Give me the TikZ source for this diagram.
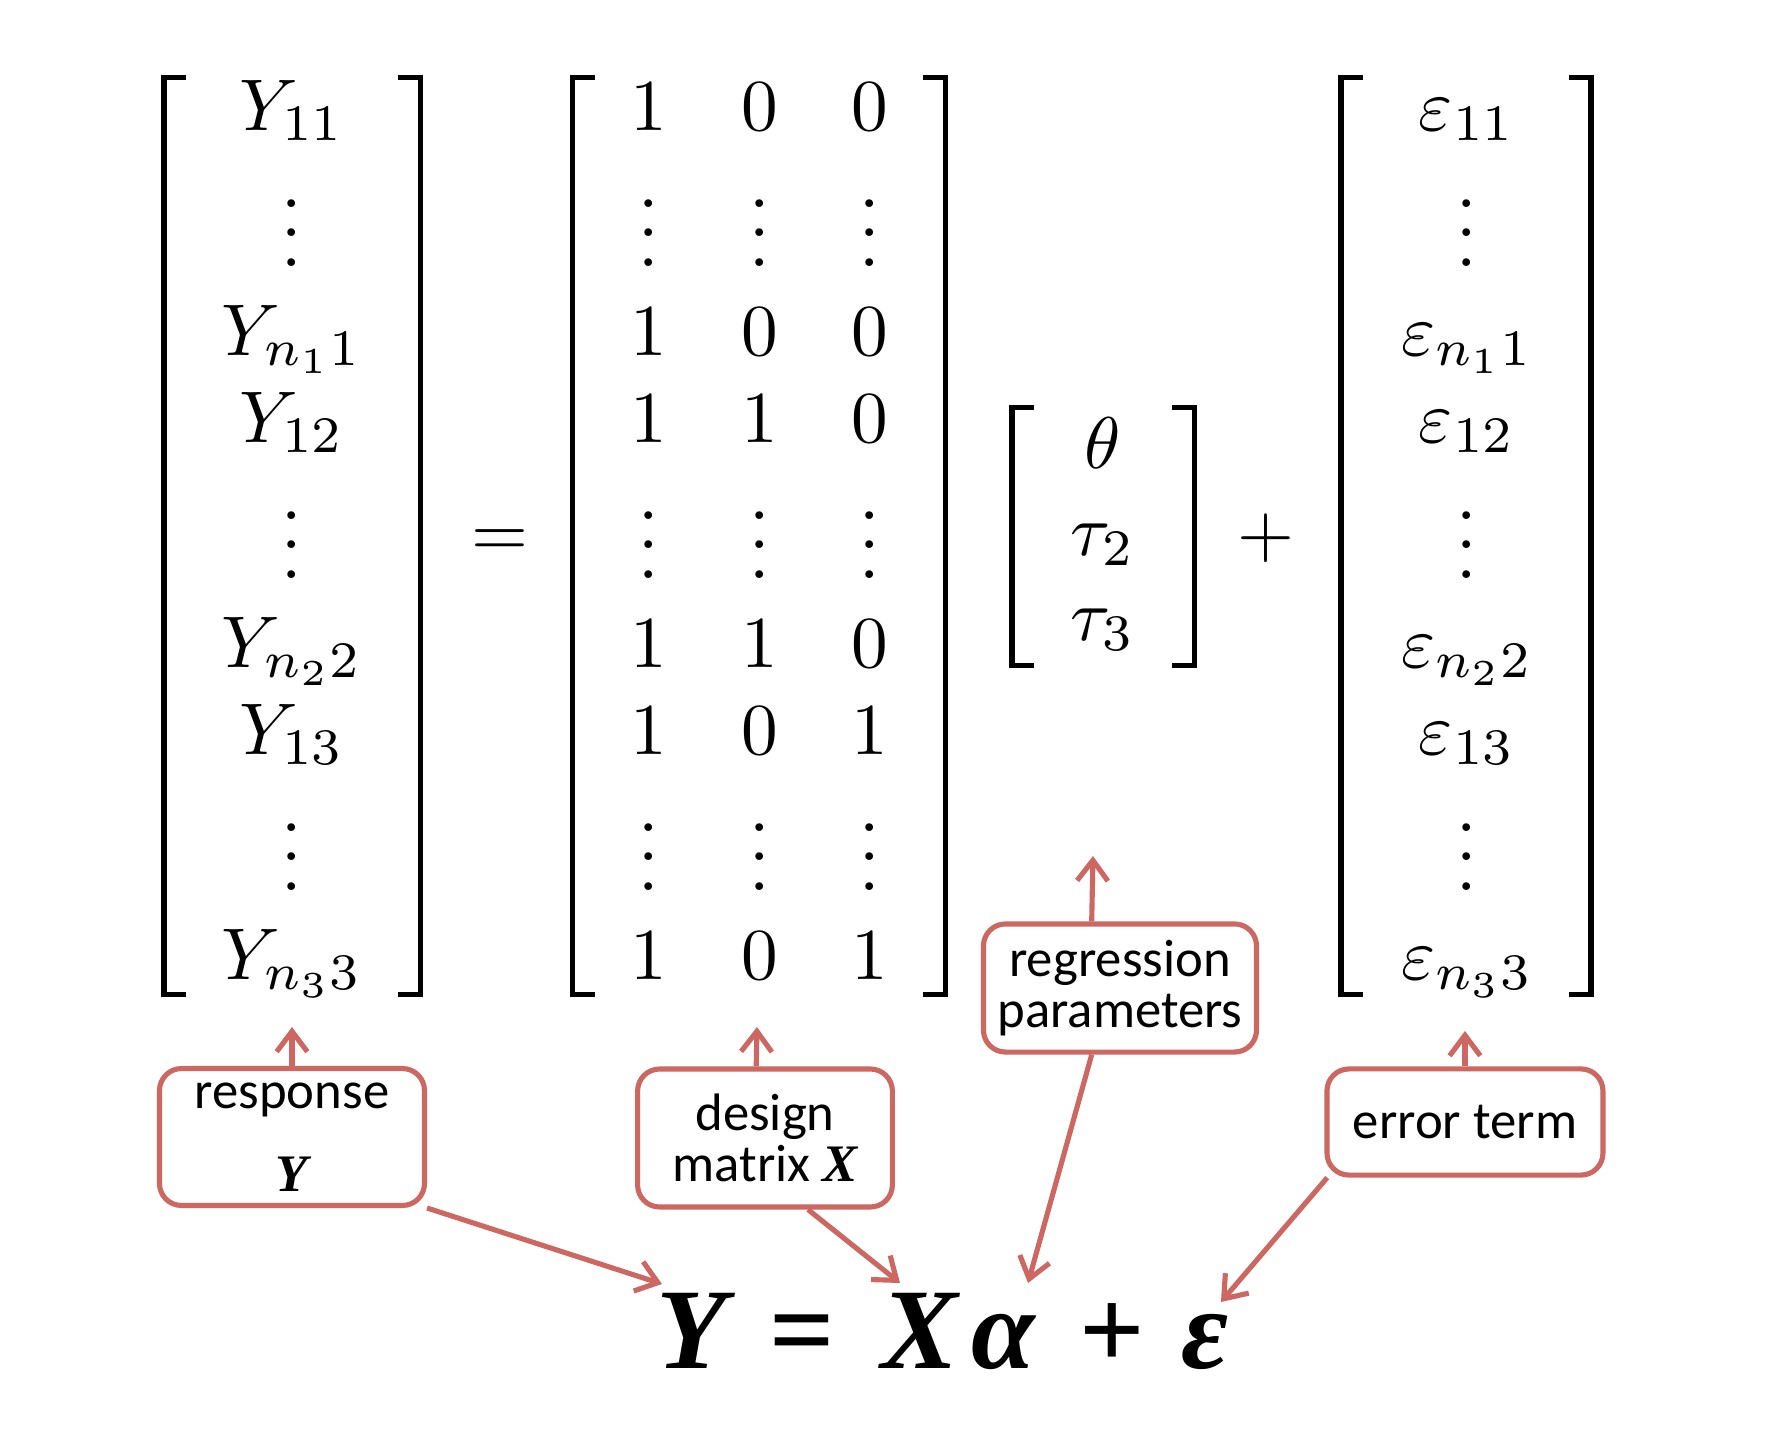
\documentclass[tikz,border=0pt]{standalone}
\usepackage{amsmath}
\usepackage{amssymb}
\usepackage{fontspec}
\usepackage{tikz}
\usetikzlibrary{arrows.meta}
\newfontfamily\labelfont{Carlito}
\newfontfamily\eqfont{Liberation Serif}
\definecolor{callout}{RGB}{205,103,97}

\begin{document}
\begin{tikzpicture}[x=0.1366pt, y=-0.1366pt,
    >={Straight Barb[length=2.8pt,width=4.2pt]},
    entry/.style={anchor=base, inner sep=0pt},
    bracket/.style={line width=0.7pt},
    callbox/.style={draw=callout, line width=0.7pt, rounded corners=3pt, align=center,
        inner sep=0pt, font=\labelfont\fontsize{7.2}{7}\selectfont},
    callarrow/.style={->, draw=callout, line width=0.7pt},
    eqn/.style={anchor=base, inner sep=0pt, font=\eqfont\fontsize{15.7}{18}\selectfont\bfseries}]
    \useasboundingbox (0,0) rectangle (1772,1434);

    \draw[bracket] (186,77.5) -- (164,77.5) -- (164,994.5) -- (186,994.5);
    \draw[bracket] (398,77.5) -- (420.5,77.5) -- (420.5,994.5) -- (398,994.5);
    \draw[bracket] (595,77.5) -- (572.5,77.5) -- (572.5,994.5) -- (595,994.5);
    \draw[bracket] (923,77.5) -- (945.5,77.5) -- (945.5,994.5) -- (923,994.5);
    \draw[bracket] (1034,407.5) -- (1012,407.5) -- (1012,665.5) -- (1034,665.5);
    \draw[bracket] (1172,407.5) -- (1194.5,407.5) -- (1194.5,665.5) -- (1172,665.5);
    \draw[bracket] (1363,77.5) -- (1341,77.5) -- (1341,994.5) -- (1363,994.5);
    \draw[bracket] (1569,77.5) -- (1591,77.5) -- (1591,994.5) -- (1569,994.5);

    \node[entry] (y1) at (292,130) {$Y_{11}$};
    \node[entry] (y2) at (292,266) {$\vdots$};
    \node[entry] (y3) at (292,355) {$Y_{n_1 1}$};
    \node[entry] (y4) at (292,442) {$Y_{12}$};
    \node[entry] (y5) at (292,578) {$\vdots$};
    \node[entry] (y6) at (292,667) {$Y_{n_2 2}$};
    \node[entry] (y7) at (292,754) {$Y_{13}$};
    \node[entry] (y8) at (292,890) {$\vdots$};
    \node[entry] (y9) at (292,979) {$Y_{n_3 3}$};

    \node[entry] (eq) at (500,556) {$=$};

    \node[entry] (x11) at (649,130) {$1$};
    \node[entry] (x12) at (760,130) {$0$};
    \node[entry] (x13) at (870,130) {$0$};
    \node[entry] (x21) at (649,266) {$\vdots$};
    \node[entry] (x22) at (760,266) {$\vdots$};
    \node[entry] (x23) at (870,266) {$\vdots$};
    \node[entry] (x31) at (649,355) {$1$};
    \node[entry] (x32) at (760,355) {$0$};
    \node[entry] (x33) at (870,355) {$0$};
    \node[entry] (x41) at (649,442) {$1$};
    \node[entry] (x42) at (760,442) {$1$};
    \node[entry] (x43) at (870,442) {$0$};
    \node[entry] (x51) at (649,578) {$\vdots$};
    \node[entry] (x52) at (760,578) {$\vdots$};
    \node[entry] (x53) at (870,578) {$\vdots$};
    \node[entry] (x61) at (649,667) {$1$};
    \node[entry] (x62) at (760,667) {$1$};
    \node[entry] (x63) at (870,667) {$0$};
    \node[entry] (x71) at (649,754) {$1$};
    \node[entry] (x72) at (760,754) {$0$};
    \node[entry] (x73) at (870,754) {$1$};
    \node[entry] (x81) at (649,890) {$\vdots$};
    \node[entry] (x82) at (760,890) {$\vdots$};
    \node[entry] (x83) at (870,890) {$\vdots$};
    \node[entry] (x91) at (649,979) {$1$};
    \node[entry] (x92) at (760,979) {$0$};
    \node[entry] (x93) at (870,979) {$1$};

    \node[entry] (p1) at (1103,468) {$\theta$};
    \node[entry] (p2) at (1103,555) {$\tau_2$};
    \node[entry] (p3) at (1103,640) {$\tau_3$};

    \node[entry] (plus) at (1266,556) {$+$};

    \node[entry] (e1) at (1467,130) {$\varepsilon_{11}$};
    \node[entry] (e2) at (1467,266) {$\vdots$};
    \node[entry] (e3) at (1467,355) {$\varepsilon_{n_1 1}$};
    \node[entry] (e4) at (1467,442) {$\varepsilon_{12}$};
    \node[entry] (e5) at (1467,578) {$\vdots$};
    \node[entry] (e6) at (1467,667) {$\varepsilon_{n_2 2}$};
    \node[entry] (e7) at (1467,754) {$\varepsilon_{13}$};
    \node[entry] (e8) at (1467,890) {$\vdots$};
    \node[entry] (e9) at (1467,979) {$\varepsilon_{n_3 3}$};

    \node[callbox, minimum width=36.2pt, minimum height=18.7pt] (resp) at (292,1137)
        {response\\[4.3pt]{\eqfont\bfseries\itshape Y}};
    \node[callbox, minimum width=34.8pt, minimum height=18.85pt] (design) at (765,1138)
        {design\\matrix {\eqfont\bfseries\itshape X}};
    \node[callbox, minimum width=37.3pt, minimum height=17.5pt] (param) at (1120,988)
        {regression\\parameters};
    \node[callbox, minimum width=37.7pt, minimum height=14.5pt] (err) at (1465,1122)
        {error term};

    \node[eqn] (eY) at (692,1368) {\itshape Y};
    \node[eqn] (eEq) at (802,1368) {=};
    \node[eqn] (eX) at (920,1368) {\itshape X};
    \node[eqn] (eAlpha) at (1003,1368) {\itshape α};
    \node[eqn] (ePlus) at (1112,1368) {+};
    \node[eqn] (eEps) at (1205,1368) {\itshape ε};

    \coordinate (respTip) at (292,1027);
    \coordinate (designTip) at (757,1027);
    \coordinate (paramTip) at (1093,856);
    \coordinate (errTip) at (1465,1031);
    \coordinate (tipY) at (662,1284);
    \coordinate (tipX) at (900,1283);
    \coordinate (tipAlpha) at (1028,1283);
    \coordinate (tipEps) at (1221,1302);

    \draw[callarrow] (resp.north) -- (respTip);
    \draw[callarrow] (design.97) -- (designTip);
    \draw[callarrow] (param.113) -- (paramTip);
    \draw[callarrow] (err.north) -- (errTip);
    \draw[callarrow] (resp.south east) -- (tipY);
    \draw[callarrow] (design.-59) -- (tipX);
    \draw[callarrow] (param.-113) -- (tipAlpha);
    \draw[callarrow] (err.-158) -- (tipEps);
\end{tikzpicture}
\end{document}
